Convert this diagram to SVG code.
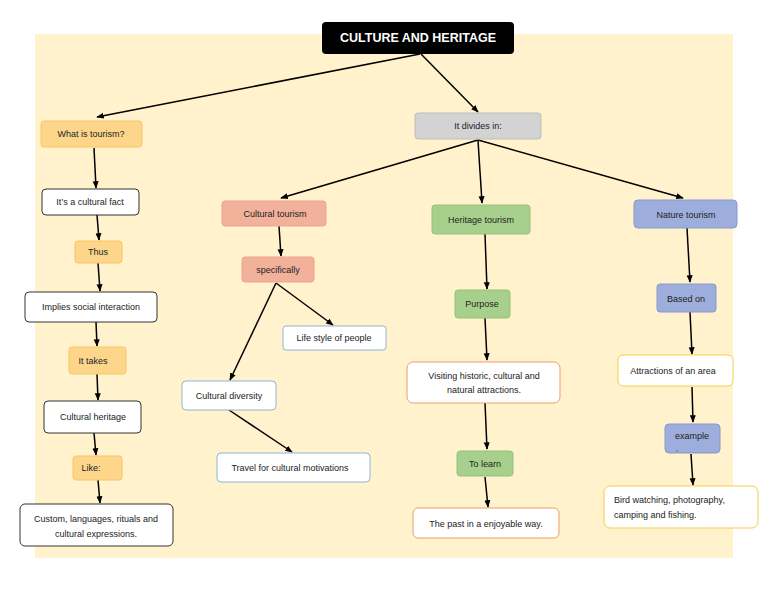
<svg xmlns="http://www.w3.org/2000/svg" width="768" height="594" viewBox="0 0 768 594">
<defs>
<marker id="ah" viewBox="0 0 10 10" refX="9" refY="5" markerWidth="5" markerHeight="5" orient="auto"><path d="M0,1 L10,5 L0,9 Z" fill="#000"/></marker>
<style>
text{font-family:"Liberation Sans",Arial,sans-serif;font-size:9px;fill:#222;text-anchor:middle;dominant-baseline:central}
.b{stroke-width:1.2}
.or{fill:#fdd68c;stroke:#f7c663}
.wh{fill:#fff;stroke:#333}
.gr{fill:#d3d3d3;stroke:#bdbdbd}
.sa{fill:#f2b19a;stroke:#eda58c}
.bl{fill:#fff;stroke:#8fb3d6}
.gn{fill:#a8d08d;stroke:#93c27a}
.ow{fill:#fff;stroke:#ed9e6c}
.nb{fill:#9eaedc;stroke:#8697cc}
.yw{fill:#fff;stroke:#f6cf4a}
#conn line{stroke:#000;stroke-width:1.5;marker-end:url(#ah)}
</style>
</defs>
<rect x="0" y="0" width="768" height="594" fill="#fff"/>
<rect x="35" y="34" width="698" height="524" fill="#fff2cc"/>
<g id="conn">
<line x1="420" y1="54" x2="97" y2="117"/>
<line x1="421" y1="54" x2="478" y2="112"/>
<line x1="478" y1="140" x2="281" y2="198"/>
<line x1="478" y1="140" x2="482" y2="203"/>
<line x1="478" y1="140" x2="683" y2="198"/>
<line x1="94" y1="148" x2="96" y2="188"/>
<line x1="97" y1="215" x2="99" y2="240"/>
<line x1="98" y1="263" x2="100" y2="291"/>
<line x1="96" y1="322" x2="97" y2="346"/>
<line x1="97" y1="374" x2="98" y2="400"/>
<line x1="94" y1="433" x2="96" y2="455"/>
<line x1="98" y1="480" x2="100" y2="503"/>
<line x1="279" y1="226" x2="281" y2="256"/>
<line x1="276" y1="283" x2="333" y2="325"/>
<line x1="276" y1="283" x2="230" y2="380"/>
<line x1="229" y1="410" x2="292" y2="452"/>
<line x1="485" y1="234" x2="487" y2="289"/>
<line x1="485" y1="318" x2="487" y2="360"/>
<line x1="485" y1="403" x2="487" y2="449"/>
<line x1="485" y1="477" x2="488" y2="507"/>
<line x1="687" y1="228" x2="690" y2="282"/>
<line x1="690" y1="312" x2="692" y2="354"/>
<line x1="692" y1="387" x2="693" y2="422"/>
<line x1="691" y1="454" x2="693" y2="485"/>
</g>
<g id="title"><rect x="322" y="22" width="192" height="32" rx="4" fill="#000"/><text x="418" y="38" style="fill:#fff;font-size:12.5px;font-weight:bold">CULTURE AND HERITAGE</text></g>
<g id="whatis"><rect class="or" x="41" y="121" width="101" height="26" rx="3"/><text x="91" y="134">What is tourism?</text></g>
<g id="divides"><rect class="gr" x="415" y="113" width="126" height="26" rx="3"/><text x="478" y="126">It divides in:</text></g>
<g id="fact"><rect class="wh" x="42" y="189" width="97" height="26" rx="4"/><text x="90" y="202">It’s a cultural fact</text></g>
<g id="thus"><rect class="or" x="75" y="241" width="47" height="22" rx="3"/><text x="98" y="252">Thus</text></g>
<g id="implies"><rect class="wh" x="25" y="292" width="132" height="30" rx="4"/><text x="91" y="307">Implies social interaction</text></g>
<g id="ittakes"><rect class="or" x="69" y="347" width="57" height="27" rx="3"/><text x="93" y="361">It takes</text></g>
<g id="heritage"><rect class="wh" x="44" y="401" width="97" height="32" rx="4"/><text x="93" y="417">Cultural heritage</text></g>
<g id="like"><rect class="or" x="73" y="456" width="49" height="24" rx="3"/><text x="91" y="468">Like:</text></g>
<g id="custom"><rect class="wh" x="20" y="504" width="153" height="42" rx="5"/><text x="96" y="519">Custom, languages, rituals and</text><text x="96" y="534">cultural expressions.</text></g>
<g id="cultural"><rect class="sa" x="222" y="201" width="104" height="25" rx="3"/><text x="275" y="214">Cultural tourism</text></g>
<g id="specifically"><rect class="sa" x="242" y="257" width="72" height="25" rx="3"/><text x="278" y="270">specifically</text></g>
<g id="lifestyle"><rect class="bl" x="283" y="326" width="103" height="24" rx="3"/><text x="334" y="338">Life style of people</text></g>
<g id="diversity"><rect class="bl" x="182" y="381" width="94" height="29" rx="4"/><text x="229" y="396">Cultural diversity</text></g>
<g id="travel"><rect class="bl" x="217" y="453" width="153" height="29" rx="4"/><text x="290" y="468">Travel for cultural motivations</text></g>
<g id="heritagetourism"><rect class="gn" x="432" y="205" width="98" height="29" rx="3"/><text x="481" y="220">Heritage tourism</text></g>
<g id="purpose"><rect class="gn" x="455" y="290" width="55" height="28" rx="3"/><text x="482" y="304">Purpose</text></g>
<g id="visiting"><rect class="ow" x="407" y="362" width="153" height="41" rx="6"/><text x="484" y="376">Visiting historic, cultural and</text><text x="484" y="390">natural attractions.</text></g>
<g id="tolearn"><rect class="gn" x="457" y="451" width="56" height="25" rx="3"/><text x="485" y="464">To learn</text></g>
<g id="past"><rect class="ow" x="413" y="508" width="146" height="30" rx="5"/><text x="486" y="524">The past in a enjoyable way.</text></g>
<g id="nature"><rect class="nb" x="634" y="200" width="103" height="28" rx="4"/><text x="686" y="215">Nature tourism</text></g>
<g id="basedon"><rect class="nb" x="657" y="284" width="59" height="28" rx="3"/><text x="686" y="299">Based on</text></g>
<g id="attractions"><rect class="yw" x="618" y="355" width="115" height="31" rx="5"/><text x="673" y="371">Attractions of an area</text></g>
<g id="example"><rect class="nb" x="665" y="424" width="55" height="29" rx="4"/><text x="692" y="436">example</text><text x="676" y="448" style="text-anchor:start;font-size:7px">,</text></g>
<g id="bird"><rect class="yw" x="604" y="486" width="154" height="42" rx="6"/><text x="614" y="500" style="text-anchor:start">Bird watching, photography,</text><text x="614" y="515" style="text-anchor:start">camping and fishing.</text></g>
</svg>
